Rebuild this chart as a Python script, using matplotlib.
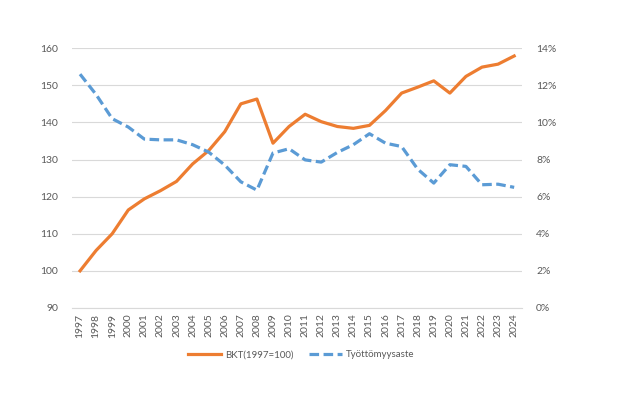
import numpy as np
import matplotlib
matplotlib.use("Agg")
import matplotlib.pyplot as plt
from matplotlib.ticker import FuncFormatter

plt.rcParams['font.family'] = ['Lato', 'DejaVu Sans']

years = list(range(1997, 2025))
bkt = [100.0, 105.5, 110.0, 116.4, 119.4, 121.6, 124.1, 128.8, 132.4, 137.5,
       145.0, 146.3, 134.4, 138.9, 142.2, 140.2, 138.9, 138.4, 139.2, 143.2,
       147.9, 149.5, 151.2, 147.9, 152.4, 154.9, 155.7, 157.9]
unemp = [12.6, 11.5, 10.2, 9.75, 9.1, 9.06, 9.06, 8.8, 8.4, 7.7,
         6.8, 6.35, 8.35, 8.58, 7.98, 7.86, 8.38, 8.8, 9.39, 8.88,
         8.7, 7.48, 6.73, 7.72, 7.63, 6.64, 6.67, 6.5]

orange = '#ED7D31'
blue = '#5B9BD5'
grey = '#595959'

fig = plt.figure(figsize=(6.18, 4.19), dpi=100)
ax = fig.add_axes([0.1165, 0.265, 0.7285, 0.62])
ax2 = ax.twinx()

x = np.arange(len(years))
ax.plot(x, bkt, color=orange, lw=2.3, label='BKT(1997=100)', zorder=3)
ax2.plot(x, unemp, color=blue, lw=2.3, ls=(0, (3, 1.4)), label='Työttömyysaste', zorder=3)

ax.set_xlim(-0.5, len(years) - 0.5)
ax.set_ylim(90, 160)
ax.set_yticks(range(90, 161, 10))
ax2.set_ylim(0, 14)
ax2.set_yticks(range(0, 15, 2))
ax2.yaxis.set_major_formatter(FuncFormatter(lambda v, p: f"{v:.0f}%"))

ax.set_xticks(x)
ax.set_xticklabels([str(y) for y in years], rotation=90)
ax.grid(axis='y', color='#D9D9D9', lw=0.8)
ax.set_axisbelow(True)

for a in (ax, ax2):
    for s in a.spines.values():
        s.set_visible(False)
    a.tick_params(length=0, labelsize=7.5, colors=grey)
ax.spines['bottom'].set_visible(True)
ax.spines['bottom'].set_color('#D9D9D9')
ax.tick_params(axis='x', pad=4)
ax.tick_params(axis='y', pad=10)
ax2.tick_params(axis='y', pad=10)

h1, l1 = ax.get_legend_handles_labels()
h2, l2 = ax2.get_legend_handles_labels()
fig.legend(h1 + h2, l1 + l2, loc='center', bbox_to_anchor=(0.487, 0.153), ncol=2,
           frameon=False, fontsize=7, labelcolor=grey, handlelength=3.4,
           columnspacing=1.6, handletextpad=0.4)

fig.savefig('out.png', dpi=100)
